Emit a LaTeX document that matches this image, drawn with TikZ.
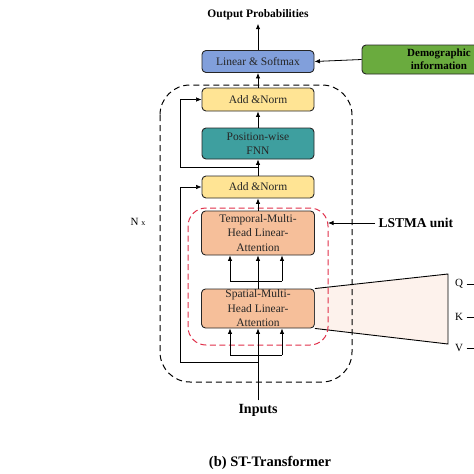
\documentclass[tikz,border=0pt]{standalone}
\usepackage{fontspec}
\setmainfont{Liberation Serif}
\usetikzlibrary{positioning}
\usetikzlibrary{arrows.meta}

\definecolor{lsblue}{HTML}{819FDB}
\definecolor{normyel}{HTML}{FFE494}
\definecolor{fnnteal}{HTML}{3E9F9F}
\definecolor{attsal}{HTML}{F6BF9A}
\definecolor{demgrn}{HTML}{6AAB3E}
\definecolor{qkvfill}{HTML}{FDF2EC}
\definecolor{lstred}{HTML}{E0304A}

\begin{document}
\begin{tikzpicture}[
    x=1pt, y=-1pt,
    lbox/.style={draw=black!85, line width=0.9pt, rounded corners=4pt, inner sep=0,
        minimum width=112pt, align=center, text=black!85,
        font=\fontsize{11.5}{14.5}\selectfont},
    dedge/.style={->, >={Latex[length=5.5pt,width=4.5pt]}, line width=0.8pt, draw=black},
    sedge/.style={->, >={Latex[length=5.5pt,width=4.5pt]}, line width=0.6pt, draw=black},
    bline/.style={line width=0.8pt, draw=black},
    blabel/.style={font=\bfseries\fontsize{11.5}{13}\selectfont}
]
\useasboundingbox (0,0) rectangle (474,474);
\clip (0,0) rectangle (474,474);

% Blocks
\node[lbox, fill=lsblue, minimum height=22pt] (lin) at (258,61.5) {Linear \& Softmax};
\node[lbox, fill=normyel, minimum height=23pt] (addA) at (258,99.5) {Add \&Norm};
\node[lbox, fill=fnnteal, minimum height=31pt] (fnn) at (258,143.5) {Position-wise\\FNN};
\node[lbox, fill=normyel, minimum height=22pt] (addB) at (258,187) {Add \&Norm};
\node[lbox, fill=attsal, minimum width=113pt, minimum height=44pt] (temp) at (258,233)
    {Temporal-Multi-\\Head Linear-\\Attention};
\node[lbox, fill=attsal, minimum width=113pt, minimum height=39pt] (spat) at (258,308.5)
    {Spatial-Multi-\\Head Linear-\\Attention};
\node[lbox, fill=demgrn, minimum width=154pt, minimum height=29pt, text=black,
    font=\bfseries\fontsize{11}{13}\selectfont] (demo) at (439,59.5) {Demographic\\information};

% Q K V projection
\coordinate (qt) at (448,274);
\coordinate (qb) at (448,344);
\draw[line width=0.9pt, fill=qkvfill] (spat.north east) -- (qt) -- (qb) -- (spat.south east);
\foreach \nm/\yy in {q/284, k/317, v/348} {
    \node[font=\fontsize{11}{13}\selectfont] (\nm) at (459,\yy) {\MakeUppercase{\nm}};
    \coordinate (\nm end) at (474,\yy);
    \draw[bline] (\nm.east) -- (\nm end);
}

% Dashed frames
\draw[line width=1pt, dash pattern=on 6pt off 4pt, rounded corners=30pt] (160,85) rectangle (352,382);
\draw[lstred, line width=1pt, dash pattern=on 6pt off 3.5pt, rounded corners=18pt] (188,208) rectangle (328,345);
\node[font=\fontsize{11}{13}\selectfont] (nx) at (138,222) {N {\footnotesize x}};

% Texts
\node[blabel] (out) at (258,15) {Output Probabilities};
\node[font=\bfseries\fontsize{14}{16}\selectfont] (inp) at (258,410) {Inputs};
\node[font=\bfseries\fontsize{14.5}{16}\selectfont] (cap) at (270,463) {(b) ST-Transformer};
\node[font=\bfseries\fontsize{13.5}{16}\selectfont, anchor=west] (lstma) at (375,223) {LSTMA unit};
\coordinate (redr) at (328,223);
\draw[dedge] (lstma.west) -- (redr);

% Main path
\draw[dedge] (inp.north) -- (spat.south);
\draw[dedge] (spat.north) -- (temp.south);
\draw[dedge] (temp.north) -- (addB.south);
\draw[dedge] (addB.north) -- (fnn.south);
\draw[dedge] (fnn.north) -- (addA.south);
\draw[dedge] (addA.north) -- (lin.south);
\draw[dedge] (lin.north) -- (out.south);
\draw[dedge] (demo.west) -- (lin.east);

% Multi-head branches
\coordinate (sb) at (258,355);
\coordinate (tb) at (258,281);
\draw[bline] ([xshift=-28pt]sb) -- ([xshift=24pt]sb);
\draw[bline] ([xshift=-28pt]tb) -- ([xshift=24pt]tb);
\foreach \dx in {-28,24} {
    \draw[dedge] ([xshift=\dx pt]sb) -- ([xshift=\dx pt]spat.south);
    \draw[dedge] ([xshift=\dx pt]tb) -- ([xshift=\dx pt]temp.south);
}

% Residuals
\coordinate (skip) at (180,0);
\coordinate (rb) at (258,362);
\coordinate (ra) at (258,167);
\draw[sedge] (rb) -- (rb -| skip) |- (addB.west);
\draw[sedge] (ra) -- (ra -| skip) |- (addA.west);

\end{tikzpicture}
\end{document}
